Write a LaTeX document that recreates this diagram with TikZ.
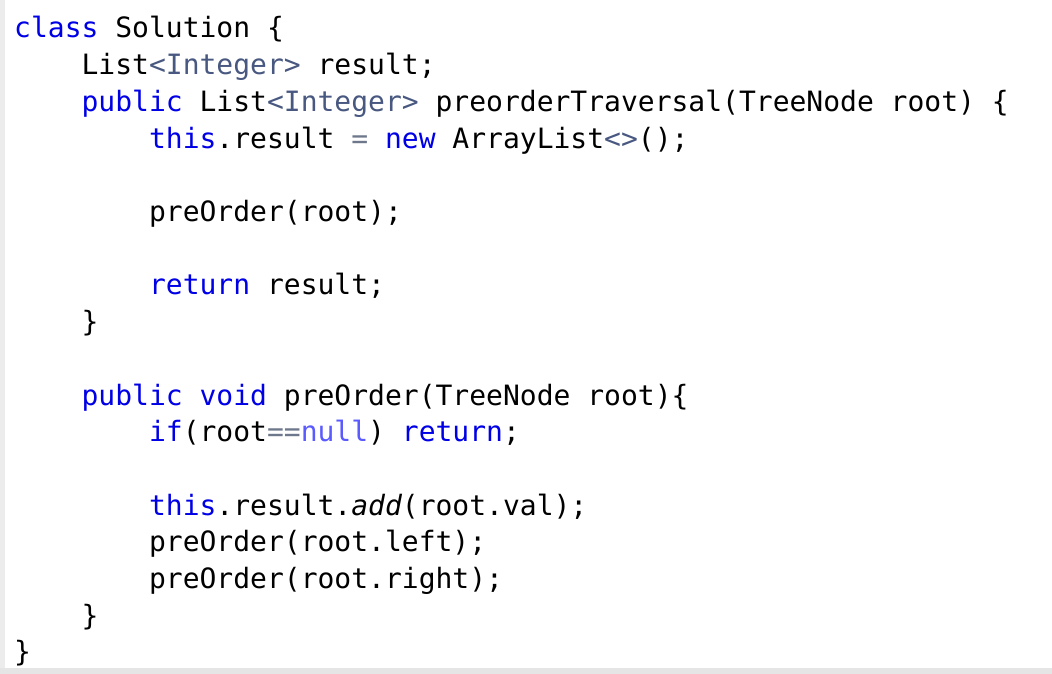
\documentclass[tikz,border=0pt]{standalone}
\usepackage{fontspec}
\setmonofont{DejaVu Sans Mono}
\usetikzlibrary{positioning}
\definecolor{kw}{RGB}{0,0,230}
\definecolor{gen}{RGB}{72,88,128}
\definecolor{nul}{RGB}{90,90,255}
\definecolor{op}{RGB}{110,120,140}
\newcommand{\kw}[1]{\textcolor{kw}{#1}}
\newcommand{\gn}[1]{\textcolor{gen}{#1}}
\begin{document}
\begin{tikzpicture}[x=1pt,y=1pt,
  code/.style={anchor=base west,inner sep=0pt,font=\fontsize{28}{30}\selectfont\ttfamily}]
  \fill[white] (0,0) rectangle (1052,-674);
  \useasboundingbox (0,0) rectangle (1052,-674);
  \fill[gray!15] (0,0) rectangle (5,-668);
  \fill[gray!20] (0,-668) rectangle (1052,-674);
  % code lines, baseline at 38 + 36.7*i
  \node[code] (l0) at (14,-38) {\kw{class} Solution \{};
  \node[code] (l1) at (14,-74.7) {\phantom{xxxx}List\gn{<Integer>} result;};
  \node[code] (l2) at (14,-111.4) {\phantom{xxxx}\kw{public} List\gn{<Integer>} preorderTraversal(TreeNode root) \{};
  \node[code] (l3) at (14,-148.1) {\phantom{xxxxxxxx}\kw{this}.result \textcolor{op}{=} \kw{new} ArrayList\gn{<>}();};
  \node[code] (l5) at (14,-221.5) {\phantom{xxxxxxxx}preOrder(root);};
  \node[code] (l7) at (14,-294.9) {\phantom{xxxxxxxx}\kw{return} result;};
  \node[code] (l8) at (14,-331.6) {\phantom{xxxx}\}};
  \node[code] (l10) at (14,-405) {\phantom{xxxx}\kw{public} \kw{void} preOrder(TreeNode root)\{};
  \node[code] (l11) at (14,-441.7) {\phantom{xxxxxxxx}\kw{if}(root\textcolor{op}{==}\textcolor{nul}{null}) \kw{return};};
  \node[code] (l13) at (14,-515.1) {\phantom{xxxxxxxx}\kw{this}.result.{\itshape add}(root.val);};
  \node[code] (l14) at (14,-551.8) {\phantom{xxxxxxxx}preOrder(root.left);};
  \node[code] (l15) at (14,-588.5) {\phantom{xxxxxxxx}preOrder(root.right);};
  \node[code] (l16) at (14,-625.2) {\phantom{xxxx}\}};
  \node[code] (l17) at (14,-661.9) {\}};
\end{tikzpicture}
\end{document}
